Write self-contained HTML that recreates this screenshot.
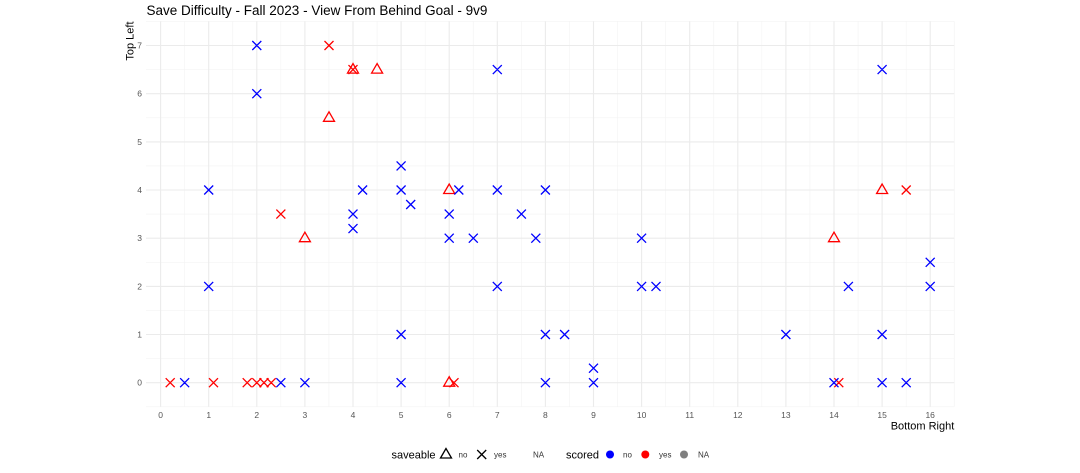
<!DOCTYPE html>
<html><head><meta charset="utf-8"><style>
html,body{margin:0;padding:0;background:#fff;}
svg{display:block;font-family:"Liberation Sans",Arial,sans-serif;}
</style></head><body>
<svg width="1080" height="473" viewBox="0 0 1080 473" xmlns="http://www.w3.org/2000/svg">
<rect width="1080" height="473" fill="#fff"/>
<g stroke="#F3F3F3" stroke-width="0.6">
<line x1="146" x2="954.3" y1="406.8" y2="406.8"/>
<line x1="146" x2="954.3" y1="358.6" y2="358.6"/>
<line x1="146" x2="954.3" y1="310.4" y2="310.4"/>
<line x1="146" x2="954.3" y1="262.3" y2="262.3"/>
<line x1="146" x2="954.3" y1="214.1" y2="214.1"/>
<line x1="146" x2="954.3" y1="165.9" y2="165.9"/>
<line x1="146" x2="954.3" y1="117.8" y2="117.8"/>
<line x1="146" x2="954.3" y1="69.6" y2="69.6"/>
<line x1="146" x2="954.3" y1="21.4" y2="21.4"/>
<line y1="21.4" y2="406.8" x1="184.65" x2="184.65"/>
<line y1="21.4" y2="406.8" x1="232.75" x2="232.75"/>
<line y1="21.4" y2="406.8" x1="280.85" x2="280.85"/>
<line y1="21.4" y2="406.8" x1="328.95" x2="328.95"/>
<line y1="21.4" y2="406.8" x1="377.05" x2="377.05"/>
<line y1="21.4" y2="406.8" x1="425.15" x2="425.15"/>
<line y1="21.4" y2="406.8" x1="473.25" x2="473.25"/>
<line y1="21.4" y2="406.8" x1="521.35" x2="521.35"/>
<line y1="21.4" y2="406.8" x1="569.45" x2="569.45"/>
<line y1="21.4" y2="406.8" x1="617.55" x2="617.55"/>
<line y1="21.4" y2="406.8" x1="665.65" x2="665.65"/>
<line y1="21.4" y2="406.8" x1="713.75" x2="713.75"/>
<line y1="21.4" y2="406.8" x1="761.85" x2="761.85"/>
<line y1="21.4" y2="406.8" x1="809.95" x2="809.95"/>
<line y1="21.4" y2="406.8" x1="858.05" x2="858.05"/>
<line y1="21.4" y2="406.8" x1="906.15" x2="906.15"/>
<line y1="21.4" y2="406.8" x1="954.25" x2="954.25"/>
</g>
<g stroke="#EBEBEB" stroke-width="1.1">
<line x1="146" x2="954.3" y1="382.7" y2="382.7"/>
<line x1="146" x2="954.3" y1="334.5" y2="334.5"/>
<line x1="146" x2="954.3" y1="286.4" y2="286.4"/>
<line x1="146" x2="954.3" y1="238.2" y2="238.2"/>
<line x1="146" x2="954.3" y1="190.0" y2="190.0"/>
<line x1="146" x2="954.3" y1="141.9" y2="141.9"/>
<line x1="146" x2="954.3" y1="93.7" y2="93.7"/>
<line x1="146" x2="954.3" y1="45.5" y2="45.5"/>
<line y1="21.4" y2="406.8" x1="160.6" x2="160.6"/>
<line y1="21.4" y2="406.8" x1="208.7" x2="208.7"/>
<line y1="21.4" y2="406.8" x1="256.8" x2="256.8"/>
<line y1="21.4" y2="406.8" x1="304.9" x2="304.9"/>
<line y1="21.4" y2="406.8" x1="353.0" x2="353.0"/>
<line y1="21.4" y2="406.8" x1="401.1" x2="401.1"/>
<line y1="21.4" y2="406.8" x1="449.2" x2="449.2"/>
<line y1="21.4" y2="406.8" x1="497.3" x2="497.3"/>
<line y1="21.4" y2="406.8" x1="545.4" x2="545.4"/>
<line y1="21.4" y2="406.8" x1="593.5" x2="593.5"/>
<line y1="21.4" y2="406.8" x1="641.6" x2="641.6"/>
<line y1="21.4" y2="406.8" x1="689.7" x2="689.7"/>
<line y1="21.4" y2="406.8" x1="737.8" x2="737.8"/>
<line y1="21.4" y2="406.8" x1="785.9" x2="785.9"/>
<line y1="21.4" y2="406.8" x1="834.0" x2="834.0"/>
<line y1="21.4" y2="406.8" x1="882.1" x2="882.1"/>
<line y1="21.4" y2="406.8" x1="930.2" x2="930.2"/>
</g>
<g font-size="8.5" fill="#555" text-anchor="end">
<text x="142" y="385.7">0</text>
<text x="142" y="337.5">1</text>
<text x="142" y="289.4">2</text>
<text x="142" y="241.2">3</text>
<text x="142" y="193.0">4</text>
<text x="142" y="144.9">5</text>
<text x="142" y="96.7">6</text>
<text x="142" y="48.5">7</text>
</g>
<g font-size="8.5" fill="#555" text-anchor="middle">
<text x="160.6" y="418">0</text>
<text x="208.7" y="418">1</text>
<text x="256.8" y="418">2</text>
<text x="304.9" y="418">3</text>
<text x="353.0" y="418">4</text>
<text x="401.1" y="418">5</text>
<text x="449.2" y="418">6</text>
<text x="497.3" y="418">7</text>
<text x="545.4" y="418">8</text>
<text x="593.5" y="418">9</text>
<text x="641.6" y="418">10</text>
<text x="689.7" y="418">11</text>
<text x="737.8" y="418">12</text>
<text x="785.9" y="418">13</text>
<text x="834.0" y="418">14</text>
<text x="882.1" y="418">15</text>
<text x="930.2" y="418">16</text>
</g>
<text x="146.5" y="15" font-size="13.5" fill="#000">Save Difficulty - Fall 2023 - View From Behind Goal - 9v9</text>
<text x="954.3" y="429.5" font-size="11" fill="#000" text-anchor="end">Bottom Right</text>
<text transform="translate(133.5,21.5) rotate(-90)" font-size="11" fill="#000" text-anchor="end">Top Left</text>
<g fill="none" stroke-width="1.3">
<path stroke="#FF0000" d="M165.7 378.2L174.7 387.2M165.7 387.2L174.7 378.2M209.0 378.2L218.0 387.2M209.0 387.2L218.0 378.2M242.7 378.2L251.7 387.2M242.7 387.2L251.7 378.2M252.3 378.2L261.3 387.2M252.3 387.2L261.3 378.2M259.5 378.2L268.5 387.2M259.5 387.2L268.5 378.2M266.7 378.2L275.7 387.2M266.7 387.2L275.7 378.2M449.5 378.2L458.5 387.2M449.5 387.2L458.5 378.2M834.3 378.2L843.3 387.2M834.3 387.2L843.3 378.2M276.35 209.6L285.35 218.6M276.35 218.6L285.35 209.6M324.5 41.0L333.5 50.0M324.5 50.0L333.5 41.0M348.5 65.1L357.5 74.1M348.5 74.1L357.5 65.1M901.7 185.5L910.7 194.5M901.7 194.5L910.7 185.5"/>
<path stroke="#FF0000" d="M449.2 376.7L443.7 386.2L454.7 386.2ZM304.9 232.2L299.4 241.7L310.4 241.7ZM449.2 184.0L443.7 193.5L454.7 193.5ZM834.0 232.2L828.5 241.7L839.5 241.7ZM882.1 184.0L876.6 193.5L887.6 193.5ZM329.0 111.8L323.5 121.3L334.5 121.3ZM353.0 63.6L347.5 73.1L358.5 73.1ZM377.1 63.6L371.6 73.1L382.6 73.1Z"/>
<path stroke="#0000FF" d="M180.15 378.2L189.15 387.2M180.15 387.2L189.15 378.2M276.35 378.2L285.35 387.2M276.35 387.2L285.35 378.2M300.4 378.2L309.4 387.2M300.4 387.2L309.4 378.2M396.6 378.2L405.6 387.2M396.6 387.2L405.6 378.2M540.9 378.2L549.9 387.2M540.9 387.2L549.9 378.2M589.0 378.2L598.0 387.2M589.0 387.2L598.0 378.2M829.5 378.2L838.5 387.2M829.5 387.2L838.5 378.2M877.6 378.2L886.6 387.2M877.6 387.2L886.6 378.2M901.7 378.2L910.7 387.2M901.7 387.2L910.7 378.2M589.0 363.7L598.0 372.7M589.0 372.7L598.0 363.7M396.6 330.0L405.6 339.0M396.6 339.0L405.6 330.0M540.9 330.0L549.9 339.0M540.9 339.0L549.9 330.0M560.1 330.0L569.1 339.0M560.1 339.0L569.1 330.0M781.4 330.0L790.4 339.0M781.4 339.0L790.4 330.0M877.6 330.0L886.6 339.0M877.6 339.0L886.6 330.0M204.2 281.9L213.2 290.9M204.2 290.9L213.2 281.9M492.8 281.9L501.8 290.9M492.8 290.9L501.8 281.9M637.1 281.9L646.1 290.9M637.1 290.9L646.1 281.9M651.5 281.9L660.5 290.9M651.5 290.9L660.5 281.9M843.9 281.9L852.9 290.9M843.9 290.9L852.9 281.9M925.7 281.9L934.7 290.9M925.7 290.9L934.7 281.9M925.7 257.8L934.7 266.8M925.7 266.8L934.7 257.8M348.5 224.1L357.5 233.1M348.5 233.1L357.5 224.1M444.7 233.7L453.7 242.7M444.7 242.7L453.7 233.7M468.8 233.7L477.8 242.7M468.8 242.7L477.8 233.7M531.3 233.7L540.3 242.7M531.3 242.7L540.3 233.7M637.1 233.7L646.1 242.7M637.1 242.7L646.1 233.7M348.5 209.6L357.5 218.6M348.5 218.6L357.5 209.6M444.7 209.6L453.7 218.6M444.7 218.6L453.7 209.6M516.9 209.6L525.9 218.6M516.9 218.6L525.9 209.6M406.2 200.0L415.2 209.0M406.2 209.0L415.2 200.0M204.2 185.5L213.2 194.5M204.2 194.5L213.2 185.5M358.1 185.5L367.1 194.5M358.1 194.5L367.1 185.5M396.6 185.5L405.6 194.5M396.6 194.5L405.6 185.5M454.3 185.5L463.3 194.5M454.3 194.5L463.3 185.5M492.8 185.5L501.8 194.5M492.8 194.5L501.8 185.5M540.9 185.5L549.9 194.5M540.9 194.5L549.9 185.5M396.6 161.4L405.6 170.4M396.6 170.4L405.6 161.4M252.3 89.2L261.3 98.2M252.3 98.2L261.3 89.2M492.8 65.1L501.8 74.1M492.8 74.1L501.8 65.1M877.6 65.1L886.6 74.1M877.6 74.1L886.6 65.1M252.3 41.0L261.3 50.0M252.3 50.0L261.3 41.0"/>
</g>
<g font-size="11" fill="#000">
<text x="391.5" y="458.5">saveable</text>
<text x="566" y="458.5">scored</text>
</g>
<g font-size="8" fill="#333">
<text x="458.5" y="457.5">no</text>
<text x="494" y="457.5">yes</text>
<text x="533" y="457.5">NA</text>
<text x="623" y="457.5">no</text>
<text x="659" y="457.5">yes</text>
<text x="698" y="457.5">NA</text>
</g>
<g fill="none" stroke="#000" stroke-width="1.3">
<path d="M446 448.5L440.5 458L451.5 458Z"/>
<path d="M477.2 450L486.2 459M477.2 459L486.2 450"/>
</g>
<circle cx="610" cy="454.5" r="4" fill="#0000FF"/>
<circle cx="645.3" cy="454.5" r="4" fill="#FF0000"/>
<circle cx="684" cy="454.5" r="4" fill="#7F7F7F"/>
</svg>
</body></html>
